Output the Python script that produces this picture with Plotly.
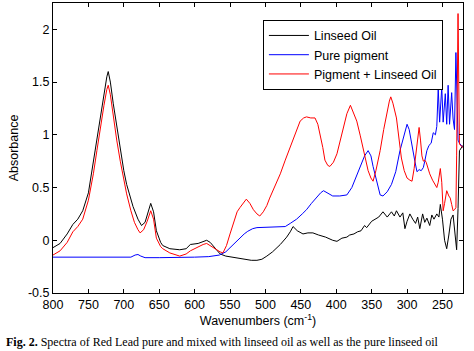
import plotly.graph_objects as go

# ---- data ----
oil_wn = [800, 790, 780, 772, 765, 758, 750, 743, 738, 734, 728, 724, 722, 719, 715, 710, 705, 700, 696, 690,
          687, 680, 675, 670, 666, 662, 658, 654, 648, 645, 635, 621, 612, 606, 595, 588, 583, 578, 570, 564,
          556, 548, 540, 530, 520, 512, 505, 498, 490, 479, 470, 465, 461, 455, 447, 440, 433, 425, 415, 405,
          399, 392, 385, 381, 375, 370, 365, 360, 357, 350, 345, 340, 334, 328, 322, 318, 315, 310, 306, 303,
          300, 296, 292, 288, 285, 282, 278, 275, 272, 268, 265, 262, 258, 255, 253, 250, 247, 244, 241, 238,
          235, 233, 230, 228, 226, 221]
oil_abs = [-0.07, -0.03, 0.06, 0.15, 0.20, 0.28, 0.45, 0.75, 0.98, 1.16, 1.38, 1.55, 1.60, 1.50, 1.30, 1.08, 0.85, 0.66, 0.53, 0.38,
           0.32, 0.20, 0.14, 0.17, 0.26, 0.35, 0.27, 0.09, -0.02, -0.05, -0.08, -0.09, -0.08, -0.04, -0.03, -0.01, 0.00, -0.02, -0.08, -0.13,
           -0.15, -0.16, -0.17, -0.18, -0.19, -0.19, -0.18, -0.15, -0.11, -0.04, 0.03, 0.08, 0.13, 0.09, 0.06, 0.07, 0.07, 0.05, 0.03, 0.00,
           -0.01, 0.02, 0.03, 0.05, 0.06, 0.08, 0.09, 0.14, 0.12, 0.18, 0.20, 0.22, 0.27, 0.22, 0.27, 0.23, 0.28, 0.22, 0.26, 0.11,
           0.18, 0.25, 0.20, 0.16, 0.22, 0.11, 0.25, 0.17, 0.21, 0.14, 0.24, 0.20, 0.25, 0.22, 0.34, 0.20, 0.00, -0.08, 0.05, 0.20,
           0.24, 0.10, -0.09, 0.30, 0.85, 0.90]

pig_wn = [800, 760, 740, 720, 700, 690, 684, 680, 676, 670, 650, 620, 600, 580, 565, 556, 550, 543, 536, 530,
          525, 518, 512, 500, 490, 480, 472, 465, 456, 448, 442, 435, 428, 422, 418, 412, 405, 395, 385, 378,
          371, 365, 360, 355, 351, 348, 343, 338, 334, 328, 322, 316, 310, 305, 300, 297, 293, 289, 286, 283,
          280, 277, 275, 272, 269, 266, 263, 260, 258, 256, 254, 251, 249, 246, 244, 242, 240, 237, 235, 233,
          231, 229, 228, 226, 221]
pig_abs = [-0.16, -0.16, -0.165, -0.165, -0.165, -0.16, -0.14, -0.135, -0.15, -0.165, -0.165, -0.165, -0.16, -0.155, -0.14, -0.11, -0.07, -0.02, 0.02, 0.06,
           0.085, 0.11, 0.12, 0.125, 0.125, 0.13, 0.13, 0.16, 0.20, 0.25, 0.29, 0.35, 0.41, 0.45, 0.47, 0.45, 0.42, 0.42, 0.43, 0.50,
           0.62, 0.72, 0.80, 0.85, 0.80, 0.70, 0.55, 0.43, 0.42, 0.46, 0.53, 0.65, 0.85, 0.98, 1.10, 1.05, 0.88, 0.75, 0.65, 0.67,
           0.66, 0.69, 0.75, 0.85, 0.90, 0.92, 1.02, 1.00, 1.08, 1.44, 1.12, 1.45, 1.12, 1.39, 1.10, 1.47, 1.10, 1.40, 1.15, 1.05,
           1.78, 1.10, 0.95, 0.92, 0.88]

mix_wn = [800, 790, 780, 772, 765, 758, 750, 743, 738, 734, 728, 724, 722, 719, 715, 710, 705, 700, 696, 690,
          685, 680, 677, 672, 667, 662, 658, 654, 648, 645, 635, 621, 612, 606, 595, 588, 583, 578, 570, 564,
          560, 555, 550, 546, 540, 536, 530, 527, 522, 517, 512, 508, 503, 498, 494, 487, 479, 472, 465, 458,
          451, 446, 442, 436, 430, 426, 423, 419, 416, 412, 409, 404, 399, 394, 390, 385, 380, 376, 371, 366,
          362, 358, 355, 351, 348, 344, 338, 333, 329, 325, 323, 320, 315, 311, 308, 304, 300, 296, 293, 290,
          287, 285, 283, 281, 279, 277, 275, 273, 270, 268, 264, 260, 258, 256, 253, 251, 249, 247, 244, 241,
          239, 237, 235, 233, 231, 230, 229, 228, 227, 226, 221]
mix_abs = [-0.14, -0.10, -0.02, 0.08, 0.13, 0.20, 0.38, 0.63, 0.85, 1.04, 1.28, 1.43, 1.47, 1.38, 1.17, 0.95, 0.75, 0.57, 0.44, 0.28,
           0.17, 0.10, 0.07, 0.10, 0.18, 0.28, 0.20, 0.02, -0.06, -0.08, -0.12, -0.15, -0.13, -0.10, -0.06, -0.04, -0.03, -0.05, -0.09, -0.11,
           -0.12, -0.05, 0.06, 0.15, 0.27, 0.31, 0.37, 0.39, 0.35, 0.29, 0.25, 0.23, 0.27, 0.33, 0.40, 0.50, 0.63, 0.76, 0.88, 1.00,
           1.13, 1.16, 1.17, 1.16, 1.16, 1.10, 1.01, 0.88, 0.76, 0.71, 0.70, 0.74, 0.82, 0.95, 1.07, 1.20, 1.28, 1.22, 1.13, 0.99,
           0.88, 0.75, 0.66, 0.59, 0.56, 0.66, 0.85, 1.05, 1.20, 1.32, 1.36, 1.30, 1.16, 0.95, 0.78, 0.66, 0.59, 0.57, 0.56, 0.68,
           0.85, 1.00, 1.07, 0.95, 0.80, 0.75, 0.76, 0.74, 0.66, 0.63, 0.57, 0.52, 0.50, 0.55, 0.68, 0.55, 0.28, 0.35, 0.47, 0.42,
           0.40, 0.34, 0.28, 0.29, 0.31, 0.80, 1.50, 2.15, 1.50, 0.91, 0.88]

series_names = ["Linseed Oil", "Pure pigment", "Pigment + Linseed Oil"]
x_ticks = [800, 750, 700, 650, 600, 550, 500, 450, 400, 350, 300, 250]
y_ticks = [-0.5, 0, 0.5, 1, 1.5, 2]
y_tick_text = ["-0.5", "0", "0.5", "1", "1.5", "2"]
caption = ("<b>Fig. 2.</b> Spectra of Red Lead pure and mixed with linseed oil as well as the pure "
           "linseed oil")

FONT = "Liberation Sans, Arial, sans-serif"

fig = go.Figure()
for wn, ab, name, col in [(oil_wn, oil_abs, series_names[0], "#000000"),
                          (pig_wn, pig_abs, series_names[1], "#0000ff"),
                          (mix_wn, mix_abs, series_names[2], "#ff0000")]:
    fig.add_trace(go.Scatter(x=wn, y=ab, name=name, mode="lines",
                             line=dict(color=col, width=1)))

axis_common = dict(showgrid=False, zeroline=False, showline=True, linecolor="black", linewidth=1,
                   mirror="allticks", ticks="inside", ticklen=4, tickcolor="black",
                   tickfont=dict(family=FONT, size=12.5, color="black"))

fig.update_layout(
    width=474, height=351,
    margin=dict(l=53, r=11, t=3, b=58, autoexpand=False),
    paper_bgcolor="white", plot_bgcolor="white",
    font=dict(family=FONT, color="black"),
    xaxis=dict(range=[800, 221], tickvals=x_ticks, automargin=False,
               title=dict(text="Wavenumbers (cm<sup>-1</sup>)", font=dict(family=FONT, size=12.5), standoff=2),
               **axis_common),
    yaxis=dict(range=[-0.5, 2.25], tickvals=y_ticks, ticktext=y_tick_text, automargin=False,
               title=dict(text="Absorbance", font=dict(family=FONT, size=12.5), standoff=6),
               **axis_common),
    legend=dict(x=0.512, y=0.942, xanchor="left", yanchor="top",
                bordercolor="black", borderwidth=1, bgcolor="white",
                font=dict(family=FONT, size=12.5, color="black"),
                tracegroupgap=0, itemwidth=40),
    showlegend=True,
)

fig.add_annotation(text=caption, xref="paper", yref="paper", x=-0.12, y=-0.2,
                   xanchor="left", yanchor="bottom", showarrow=False,
                   font=dict(family="Liberation Serif, serif", size=12, color="black"))

fig.write_html("out.html")
